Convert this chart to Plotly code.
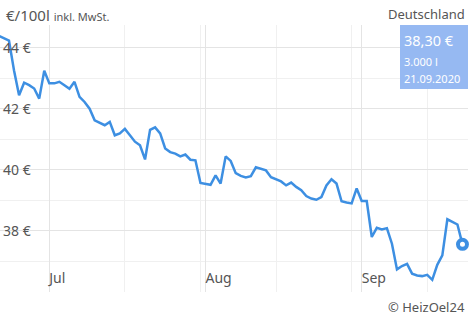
import pandas as pd
import plotly.graph_objects as go

start_date = "2020-06-21"
prices = [44.38, 44.31, 44.23, 43.25, 42.44, 42.85, 42.77, 42.66, 42.33, 43.24,
          42.83, 42.83, 42.88, 42.77, 42.65, 42.88, 42.39, 42.22, 42.00, 41.62,
          41.53, 41.46, 41.57, 41.13, 41.19, 41.34, 41.13, 40.92, 40.80, 40.34,
          41.31, 41.39, 41.19, 40.70, 40.58, 40.53, 40.44, 40.50, 40.33, 40.31,
          39.57, 39.55, 39.51, 39.82, 39.55, 40.44, 40.29, 39.89, 39.80, 39.75,
          39.79, 40.08, 40.04, 39.98, 39.76, 39.69, 39.62, 39.49, 39.58, 39.44,
          39.33, 39.14, 39.06, 39.02, 39.11, 39.49, 39.69, 39.55, 38.97, 38.93,
          38.90, 39.39, 38.98, 38.98, 37.80, 38.10, 38.05, 38.09, 37.58, 36.74,
          36.85, 36.92, 36.60, 36.54, 36.52, 36.56, 36.40, 36.89, 37.20, 38.38,
          38.29, 38.21, 37.56]
dates = pd.date_range(start_date, periods=len(prices), freq="D")

month_ticks = ["2020-07-01", "2020-08-01", "2020-09-01"]
month_labels = ["Jul", "Aug", "Sep"]
y_ticks = [38, 40, 42, 44]
y_labels = ["38 €", "40 €", "42 €", "44 €"]
y_minor = [37, 39, 41, 43]

tooltip_price = "38,30 €"
tooltip_volume = "3.000 l"
tooltip_date = "21.09.2020"

FONT = "Noto Sans"
TXT = "#555555"
BLUE = "#3d8fe2"

fig = go.Figure()
fig.add_trace(go.Scatter(x=dates, y=prices, mode="lines",
                         line=dict(color=BLUE, width=2.5), hoverinfo="skip"))
fig.add_trace(go.Scatter(x=[dates[-1]], y=[prices[-1]], mode="markers",
                         marker=dict(size=9, color="white",
                                     line=dict(color=BLUE, width=4)),
                         hoverinfo="skip", cliponaxis=False))

fig.update_layout(
    width=472, height=320,
    margin=dict(l=0, r=4, t=25, b=28),
    paper_bgcolor="white", plot_bgcolor="white",
    showlegend=False,
    font=dict(family=FONT, size=14, color=TXT),
    xaxis=dict(
        type="date",
        range=["2020-06-21 05:11", "2020-09-22 02:18"],
        tickmode="array", tickvals=month_ticks, ticktext=month_labels,
        ticklabelposition="inside right",
        ticks="", showline=False, zeroline=False,
        showgrid=True, gridcolor="#e4e4e4", gridwidth=1,
        tickfont=dict(family=FONT, size=14, color=TXT),
        minor=dict(dtick=15 * 86400000, tick0="2020-07-01", showgrid=True,
                   gridcolor="#f0f0f0", gridwidth=1, ticks=""),
    ),
    yaxis=dict(
        range=[36, 44.74],
        tickmode="array", tickvals=y_ticks, ticktext=y_labels,
        ticklabelposition="inside",
        ticks="", showline=False, zeroline=False,
        showgrid=True, gridcolor="#e4e4e4", gridwidth=1,
        tickfont=dict(family=FONT, size=14, color=TXT),
        minor=dict(tickmode="array", tickvals=y_minor, showgrid=True,
                   gridcolor="#f0f0f0", gridwidth=1, ticks=""),
    ),
)

fig.add_shape(type="rect", xref="paper", yref="paper",
              x0=400 / 468, x1=1.0, y0=(292 - 89) / 267, y1=1.0,
              fillcolor="#96b9f2", line=dict(width=0), layer="above")

def py(pix):
    return (292 - pix) / 267

fig.add_annotation(xref="paper", yref="paper", x=0, y=py(15), xshift=4,
                   xanchor="left", yanchor="middle", showarrow=False,
                   text="€/100l <span style='font-size:11px'>inkl. MwSt.</span>",
                   font=dict(family=FONT, size=15, color=TXT))
fig.add_annotation(xref="paper", yref="paper", x=1, y=py(14), xshift=-1,
                   xanchor="right", yanchor="middle", showarrow=False,
                   text="Deutschland", font=dict(family=FONT, size=13, color=TXT))
fig.add_annotation(xref="paper", yref="paper", x=400 / 468, y=py(39.5), xshift=2,
                   xanchor="left", yanchor="middle", showarrow=False,
                   text=tooltip_price, font=dict(family=FONT, size=14.5, color="white"))
fig.add_annotation(xref="paper", yref="paper", x=400 / 468, y=py(61), xshift=2,
                   xanchor="left", yanchor="middle", showarrow=False,
                   text=tooltip_volume, font=dict(family=FONT, size=11, color="white"))
fig.add_annotation(xref="paper", yref="paper", x=400 / 468, y=py(78.5), xshift=2,
                   xanchor="left", yanchor="middle", showarrow=False,
                   text=tooltip_date, font=dict(family=FONT, size=11, color="white"))
fig.add_annotation(xref="paper", yref="paper", x=1, y=py(306.5), xshift=-1,
                   xanchor="right", yanchor="middle", showarrow=False,
                   text="© HeizOel24", font=dict(family=FONT, size=13, color=TXT))

fig.write_html("out.html")
